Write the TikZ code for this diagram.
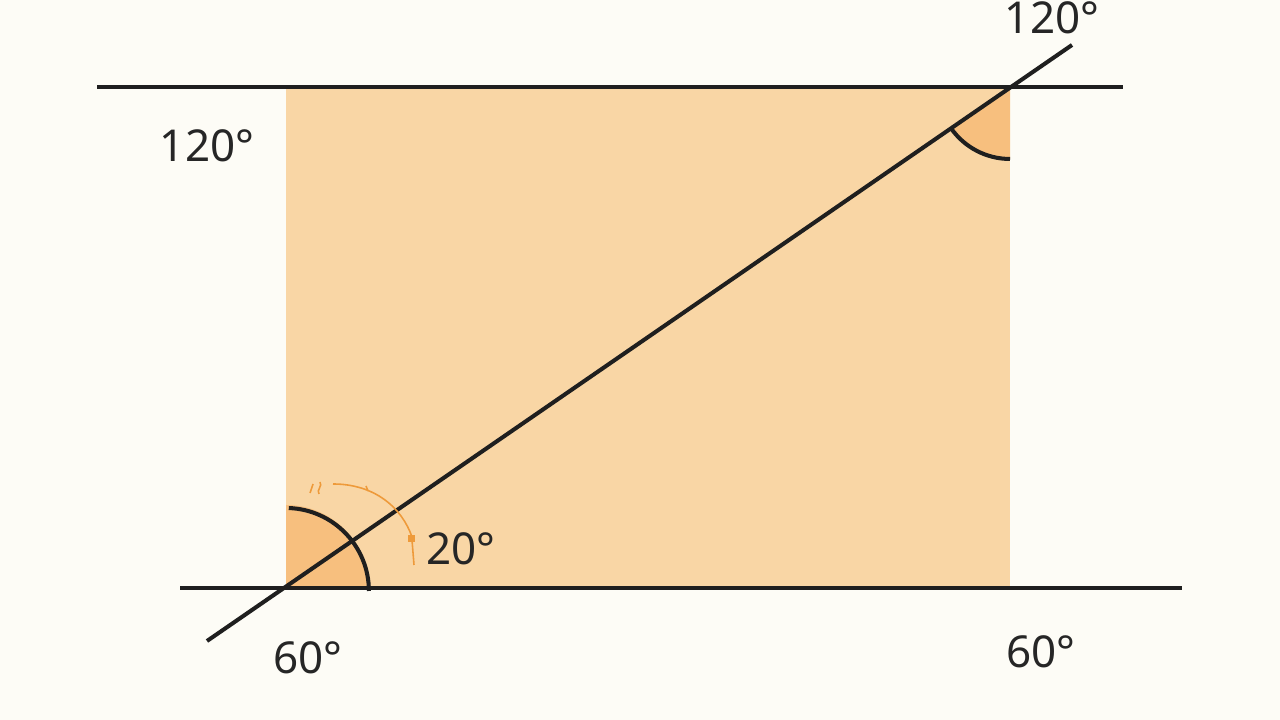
\documentclass[tikz,border=0pt]{standalone}
\usepackage{fontspec}
\setmainfont{Noto Sans}
\definecolor{paper}{HTML}{FDFCF6}
\definecolor{peach}{HTML}{F9D6A5}
\definecolor{deeppeach}{HTML}{F7BF7E}
\definecolor{pencil}{HTML}{EE9A3A}
\begin{document}
\begin{tikzpicture}[line/.style={line width=1.15pt,color=black!88},
  deg/.style={font=\fontsize{12.5}{15}\selectfont,text=black!85},
  scribble/.style={color=pencil,line width=0.45pt}]
  \useasboundingbox (0,0) rectangle (12.8,7.2);
  \fill [paper] (0,0) rectangle (12.8,7.2);
  % corners of the shaded box
  \coordinate (a) at (2.86,1.32);
  \coordinate (b) at (10.10,6.33);
  \fill [peach] (a) rectangle (b);
  \fill [deeppeach] (a) -- ++(0:0.83) arc (0:90:0.83) -- cycle;
  \fill [deeppeach] (b) -- ++(214.6:0.72) arc (214.6:270:0.72) -- cycle;
  % parallel lines and transversal
  \coordinate (tl) at (0.97,6.33);
  \coordinate (tr) at (11.23,6.33);
  \coordinate (bl) at (1.80,1.32);
  \coordinate (br) at (11.82,1.32);
  \coordinate (dl) at (2.07,0.79);
  \coordinate (dr) at (10.72,6.75);
  \draw [line] (tl) -- (tr);
  \draw [line] (bl) -- (br);
  \draw [line] (dl) -- (dr);
  \draw [line] ([shift={(88:0.8)}]a) arc (88:0:0.83);
  \draw [line] ([shift={(214.6:0.72)}]b) arc (214.6:270:0.72);
  % pencil marks
  \coordinate (s1) at (3.33,2.36);
  \coordinate (s2) at (4.12,1.83);
  \draw [scribble] (s1) .. controls (3.75,2.36) and (4.02,2.12) .. (s2);
  \fill [pencil] (4.08,1.78) rectangle (4.15,1.85);
  \draw [scribble] (4.12,1.80) -- (4.14,1.55);
  \draw [scribble] (3.10,2.27) -- (3.13,2.36);
  \draw [scribble] (3.19,2.26) .. controls (3.16,2.30) and (3.23,2.34) .. (3.20,2.38);
  \draw [scribble] (3.66,2.34) -- (3.68,2.29);
  % angle labels
  \node [deg] (ntr) at (10.52,7.02) {120°};
  \node [deg] (nl) at (2.07,5.74) {120°};
  \node [deg] (nbl) at (3.08,0.62) {60°};
  \node [deg] (nbr) at (10.41,0.68) {60°};
  \node [deg] (nm) at (4.61,1.71) {20°};
\end{tikzpicture}
\end{document}
